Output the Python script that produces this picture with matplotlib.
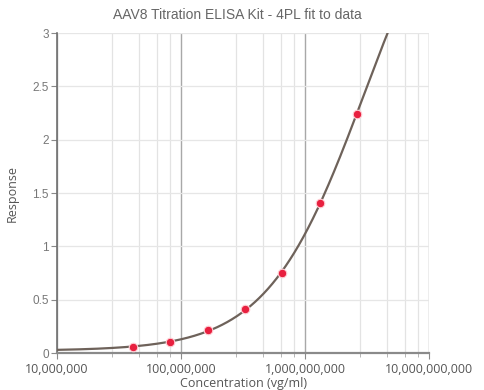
import numpy as np
import matplotlib
matplotlib.use("Agg")
import matplotlib.pyplot as plt
from matplotlib.ticker import FixedLocator, FuncFormatter, NullFormatter

# Data
concentration = [4.1e7, 8.2e7, 1.64e8, 3.28e8, 6.56e8, 1.31e9, 2.62e9]
response = [0.059, 0.100, 0.213, 0.412, 0.750, 1.403, 2.243]
x_major = [1e7, 1e8, 1e9, 1e10]
x_labels = ["10,000,000", "100,000,000", "1,000,000,000", "10,000,000,000"]
y_ticks = [0, 0.5, 1, 1.5, 2, 2.5, 3]
y_labels = ["0", "0.5", "1", "1.5", "2", "2.5", "3"]
title = "AAV8 Titration ELISA Kit - 4PL fit to data"

# 4PL fit: y = A + (D - A) * u/(1+u), u = (x/C)^B ; grid over B, C, linear LSQ for A, D
xd = np.array(concentration)
yd = np.array(response)
best = None
for B in np.linspace(0.5, 2.0, 151):
    for logC in np.linspace(8.5, 12.0, 176):
        u = (xd / 10**logC) ** B
        g = u / (1 + u)
        M = np.column_stack([1 - g, g])
        coef, *_ = np.linalg.lstsq(M, yd, rcond=None)
        r = np.sum((M @ coef - yd) ** 2)
        if best is None or r < best[0]:
            best = (r, B, logC, coef)
_, B, logC, (A, D) = best
xs = np.logspace(7, 10, 600)
us = (xs / 10**logC) ** B
ys = A + (D - A) * us / (1 + us)

fig = plt.figure(figsize=(4.84, 3.90), dpi=100)
ax = fig.add_axes([57/484, 37/390, 372/484, 320/390])
ax.set_xscale("log")
ax.set_xlim(1e7, 1e10)
ax.set_ylim(0, 3)

minor = [m * 10**e for e in range(7, 10) for m in (2.8, 4.6, 6.4, 8.2)]
ax.xaxis.set_major_locator(FixedLocator(x_major))
ax.xaxis.set_minor_locator(FixedLocator(minor))
ax.xaxis.set_major_formatter(FuncFormatter(lambda v, p: x_labels[x_major.index(v)] if v in x_major else ""))
ax.xaxis.set_minor_formatter(NullFormatter())
ax.set_yticks(y_ticks)
ax.set_yticklabels(y_labels)

ax.grid(True, which="minor", axis="x", color="#e3e3e3", lw=0.9)
ax.grid(True, which="major", axis="x", color="#a8a8a8", lw=1.0)
ax.grid(True, which="major", axis="y", color="#e6e6e6", lw=0.9)
ax.set_axisbelow(True)

for s in ("top", "right"):
    ax.spines[s].set_visible(False)
ax.spines["left"].set_color("#6f6f6f")
ax.spines["bottom"].set_color("#8a8a8a")
ax.spines["left"].set_linewidth(1.2)
ax.spines["bottom"].set_linewidth(1.6)

ax.tick_params(axis="y", which="major", length=4, color="#8a8a8a", labelsize=8.5,
               labelcolor="#777777", pad=2)
ax.tick_params(axis="x", which="major", length=4, color="#8a8a8a", labelsize=9,
               labelcolor="#555555", pad=3)
ax.tick_params(axis="x", which="minor", length=3, color="#aaaaaa")
for t in ax.get_yticklabels():
    t.set_fontfamily("Liberation Sans")
for t in ax.get_xticklabels():
    t.set_fontfamily("Open Sans")

ax.plot(xs, ys, color="#6e625a", lw=1.6, zorder=3, clip_on=True)
ax.scatter(concentration, response, s=38, color="#e8203f", edgecolors="#ffd0d6",
           linewidths=0.8, zorder=4)

ax.set_xlabel("Concentration (vg/ml)", fontfamily="Open Sans", fontsize=9,
              color="#555555", labelpad=1)
ax.set_ylabel("Response", fontfamily="Open Sans", fontsize=9, color="#555555", labelpad=10)

fig.text(237/484, 1 - 15/390, title, ha="center", va="center",
         fontfamily="Liberation Sans", fontsize=10, color="#666666")

fig.savefig("out.png", dpi=100)
